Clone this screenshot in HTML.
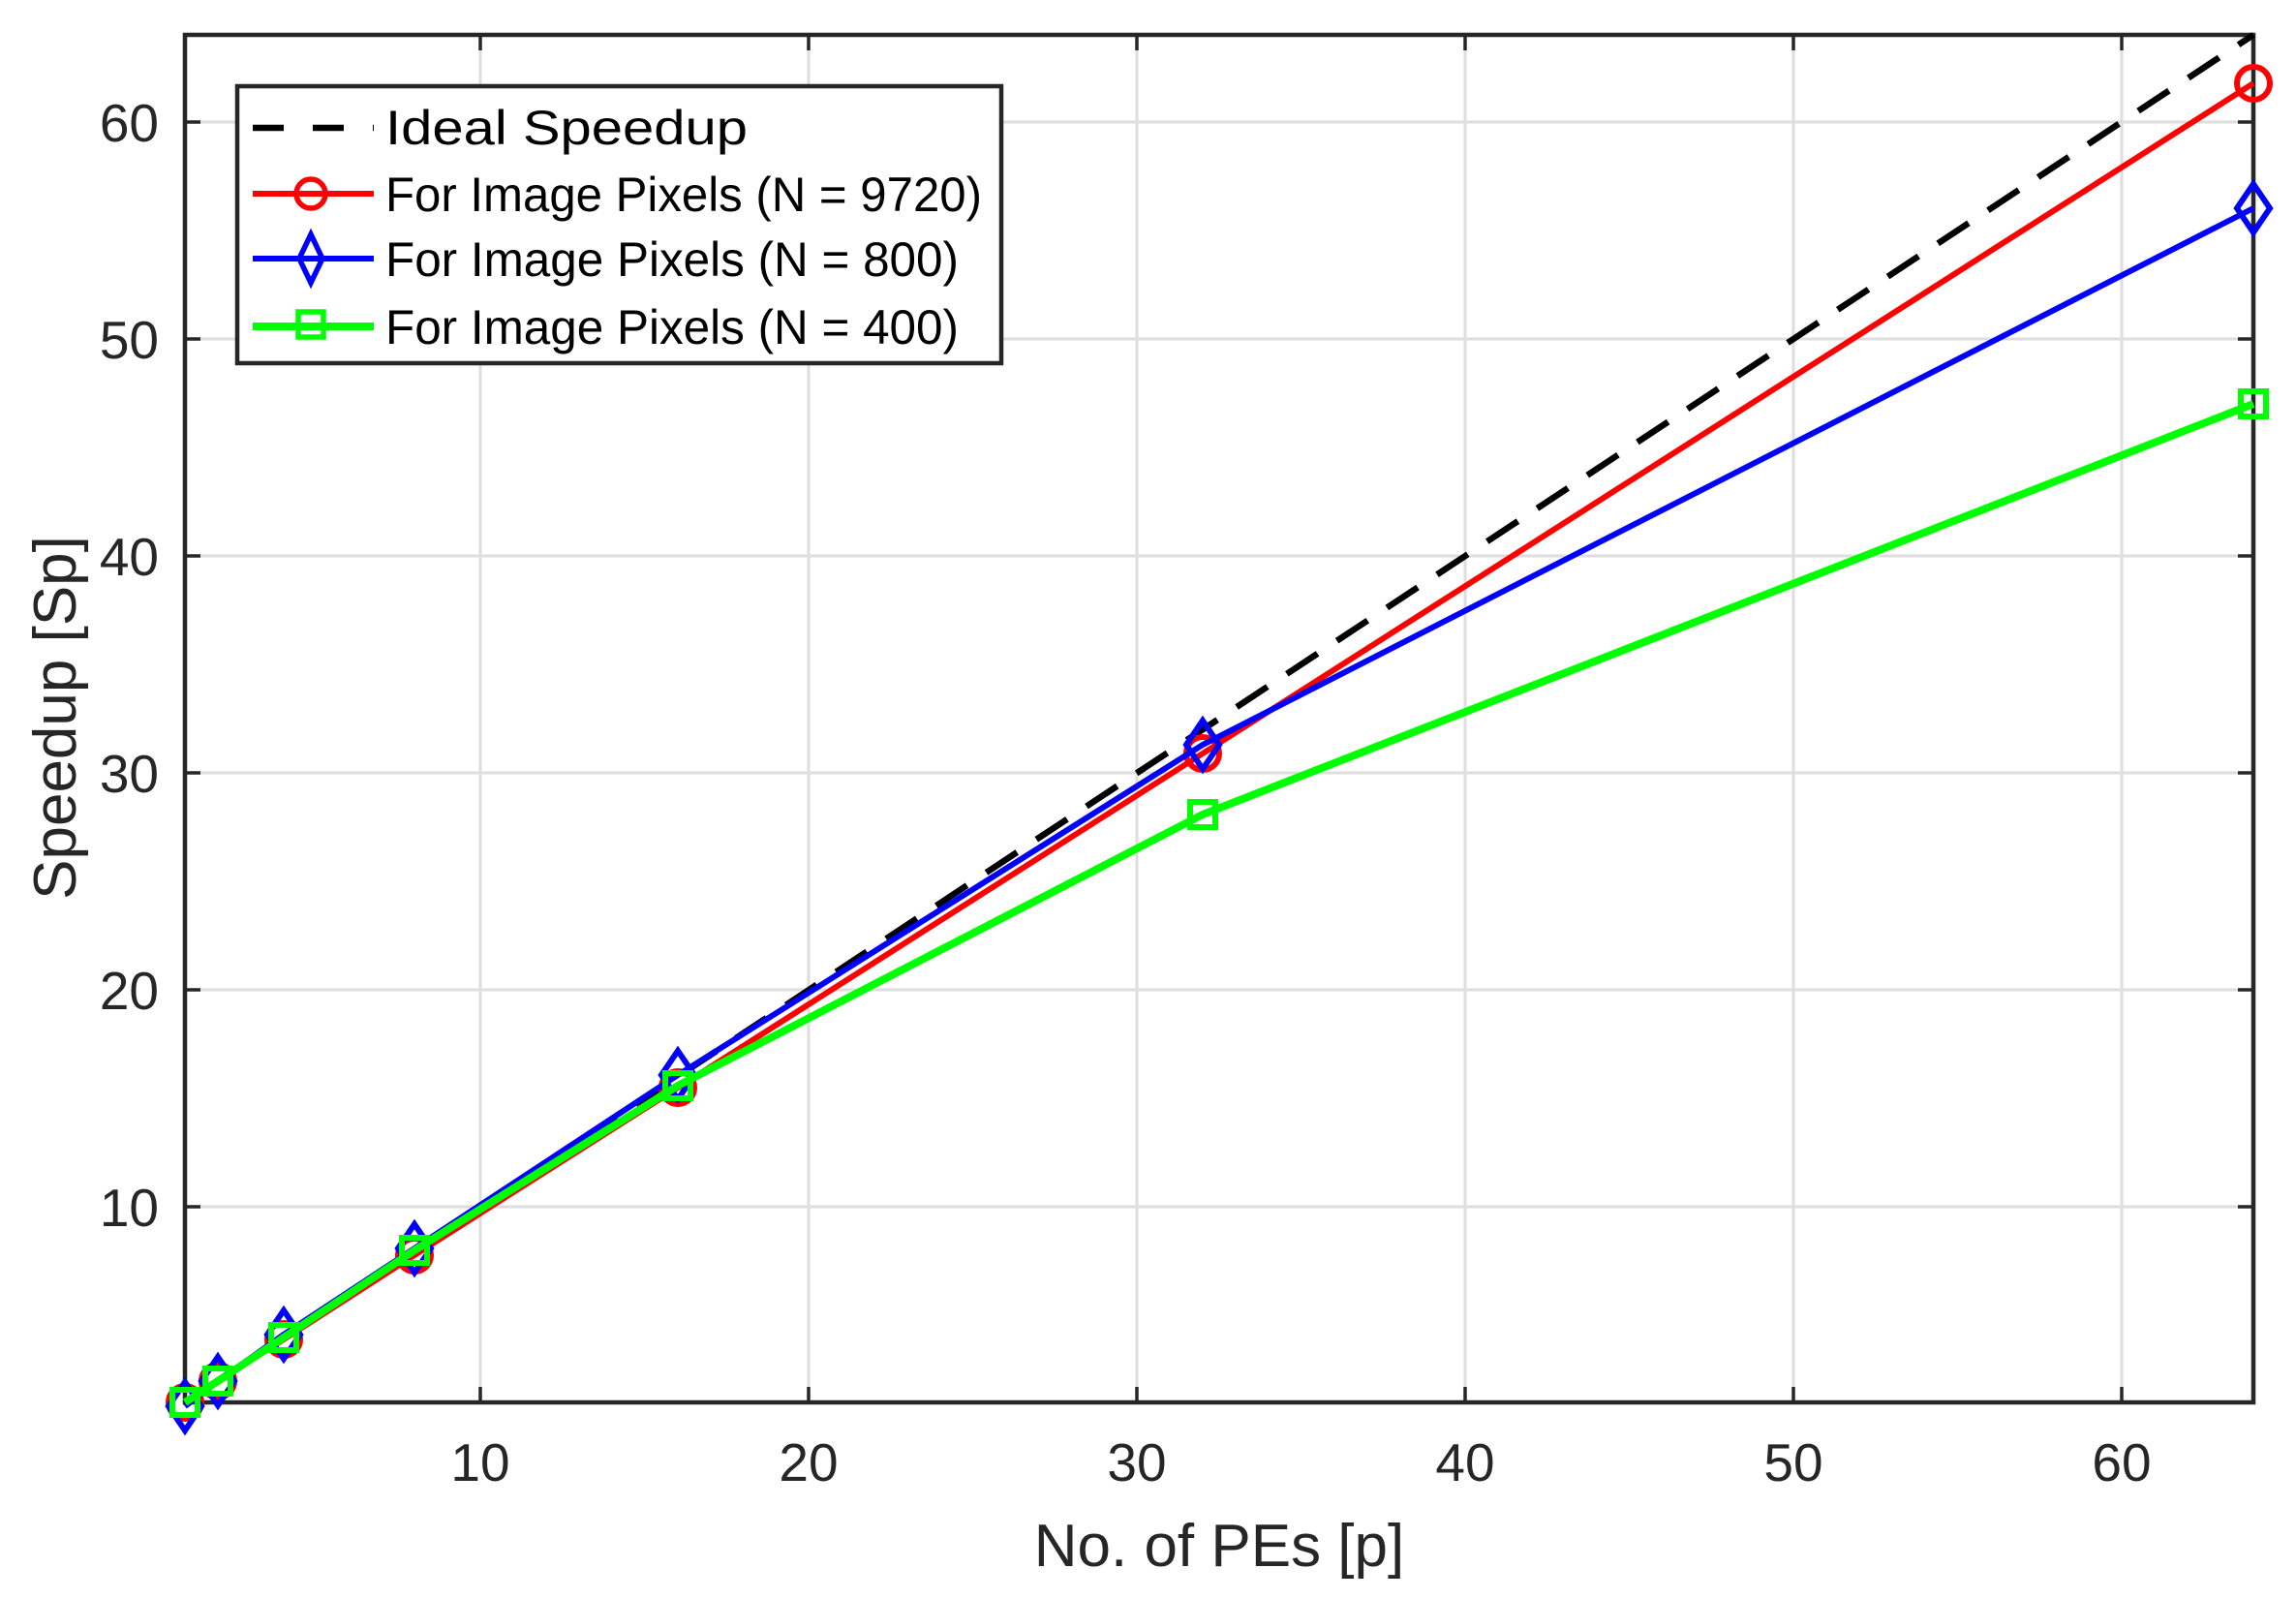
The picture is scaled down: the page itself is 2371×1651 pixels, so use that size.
<!DOCTYPE html>
<html><head><meta charset="utf-8"><style>html,body{margin:0;padding:0;background:#fff}svg{display:block}</style></head>
<body>
<svg width="2371" height="1651" viewBox="0 0 2371 1651" xmlns="http://www.w3.org/2000/svg" font-family="Liberation Sans, sans-serif">
<rect width="2371" height="1651" fill="#fff"/>
<g stroke="#dedede" stroke-width="3">
<line x1="496" y1="36" x2="496" y2="1448"/><line x1="835" y1="36" x2="835" y2="1448"/><line x1="1174" y1="36" x2="1174" y2="1448"/><line x1="1513" y1="36" x2="1513" y2="1448"/><line x1="1852" y1="36" x2="1852" y2="1448"/><line x1="2191" y1="36" x2="2191" y2="1448"/>
<line x1="191" y1="1246" x2="2327" y2="1246"/><line x1="191" y1="1022" x2="2327" y2="1022"/><line x1="191" y1="798" x2="2327" y2="798"/><line x1="191" y1="574" x2="2327" y2="574"/><line x1="191" y1="350" x2="2327" y2="350"/><line x1="191" y1="126" x2="2327" y2="126"/>
</g>
<g stroke="#262626" stroke-width="3.5">
<path d="M496 1448v-16M835 1448v-16M1174 1448v-16M1513 1448v-16M1852 1448v-16M2191 1448v-16M496 36v16M835 36v16M1174 36v16M1513 36v16M1852 36v16M2191 36v16"/>
<path d="M191 1246h16M191 1022h16M191 798h16M191 574h16M191 350h16M191 126h16M2327 1246h-16M2327 1022h-16M2327 798h-16M2327 574h-16M2327 350h-16M2327 126h-16"/>
</g>
<rect x="191" y="36" width="2136" height="1412" fill="none" stroke="#262626" stroke-width="4.5"/>
<polyline points="191,1448 2327,36" fill="none" stroke="#000" stroke-width="6.5" stroke-dasharray="38,24"/>
<g stroke="#ff0000" stroke-width="6" fill="none">
<polyline points="191,1448 225,1426 293,1383 428,1296 700,1123 1242,778 2327,86"/>
<circle cx="191" cy="1448" r="17"/><circle cx="225" cy="1426" r="17"/><circle cx="293" cy="1383" r="17"/><circle cx="428" cy="1296" r="17"/><circle cx="700" cy="1123" r="17"/><circle cx="1242" cy="778" r="17"/><circle cx="2327" cy="86" r="17"/>
</g>
<g stroke="#0000ff" stroke-width="6" fill="none">
<polyline points="191,1452 225,1426 293,1378 428,1289 700,1110 1242,769 2327,215"/>
<path d="M191 1427l17 25l-17 25l-17 -25zM225 1401l17 25l-17 25l-17 -25zM293 1353l17 25l-17 25l-17 -25zM428 1264l17 25l-17 25l-17 -25zM700 1085l17 25l-17 25l-17 -25zM1242 744l17 25l-17 25l-17 -25zM2327 190l17 25l-17 25l-17 -25z"/>
</g>
<g stroke="#00ff00" stroke-width="8" fill="none">
<polyline points="191,1448 225,1426 293,1381 428,1291 700,1121 1242,841 2327,417"/>
<path d="M178 1435h26v26h-26zM212 1413h26v26h-26zM280 1368h26v26h-26zM415 1278h26v26h-26zM687 1108h26v26h-26zM1229 828h26v26h-26zM2314 404h26v26h-26z" stroke-width="6"/>
</g>
<rect x="245" y="89" width="789" height="286" fill="#fff" stroke="#262626" stroke-width="4.5"/>
<line x1="261" y1="132" x2="386" y2="132" stroke="#000" stroke-width="6.5" stroke-dasharray="32,30"/>
<line x1="261" y1="200" x2="386" y2="200" stroke="#ff0000" stroke-width="6"/><circle cx="321" cy="200" r="15" fill="none" stroke="#ff0000" stroke-width="5.5"/>
<line x1="261" y1="267" x2="386" y2="267" stroke="#0000ff" stroke-width="6"/><path d="M321 242l12 25l-12 25l-12 -25z" fill="none" stroke="#0000ff" stroke-width="5.5"/>
<line x1="261" y1="337" x2="386" y2="337" stroke="#00ff00" stroke-width="8"/><rect x="308" y="322" width="26" height="26" fill="none" stroke="#00ff00" stroke-width="5.5"/>
<g font-size="50" fill="#000">
<text x="398" y="149" textLength="374" lengthAdjust="spacingAndGlyphs">Ideal Speedup</text>
<text x="398" y="218" textLength="616" lengthAdjust="spacingAndGlyphs">For Image Pixels (N = 9720)</text>
<text x="398" y="285" textLength="592" lengthAdjust="spacingAndGlyphs">For Image Pixels (N = 800)</text>
<text x="398" y="355" textLength="592" lengthAdjust="spacingAndGlyphs">For Image Pixels (N = 400)</text>
</g>
<g font-size="55" fill="#262626" text-anchor="end">
<text x="164" y="1266">10</text><text x="164" y="1042">20</text><text x="164" y="818">30</text><text x="164" y="594">40</text><text x="164" y="370">50</text><text x="164" y="146">60</text>
</g>
<g font-size="55" fill="#262626" text-anchor="middle">
<text x="496" y="1529">10</text><text x="835" y="1529">20</text><text x="1174" y="1529">30</text><text x="1513" y="1529">40</text><text x="1852" y="1529">50</text><text x="2191" y="1529">60</text>
</g>
<text x="1259" y="1617" font-size="62" fill="#262626" text-anchor="middle">No. of PEs [p]</text>
<text transform="translate(78,741) rotate(-90)" font-size="62" fill="#262626" text-anchor="middle">Speedup [Sp]</text>
</svg>
</body></html>
